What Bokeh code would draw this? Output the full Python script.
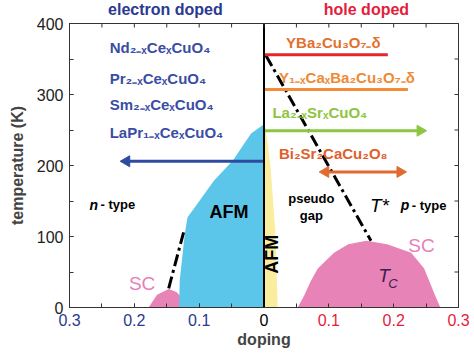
from bokeh.plotting import figure
from bokeh.models import FixedTicker, CustomJSTickFormatter, Span, Range1d, GridBox
from bokeh.core.properties import value
from bokeh.embed import file_html
from bokeh.resources import INLINE
import math

FONT = "Liberation Sans"

# ---- data (doping < 0 : electron doped, doping > 0 : hole doped) ----
afm_e_x = [0.0, 0.0, -0.02, -0.048, -0.077, -0.11, -0.118, -0.122, -0.125, -0.13, -0.131]
afm_e_t = [0, 258, 245, 207, 179, 137, 127, 105, 80, 38, 0]
afm_h_x = [0.0, 0.0, 0.003, 0.01, 0.018, 0.021]
afm_h_t = [0, 260, 250, 200, 100, 0]
sc_h_x = [0.052, 0.062, 0.072, 0.083, 0.108, 0.13, 0.158, 0.19, 0.227, 0.247, 0.255, 0.264, 0.272]
sc_h_t = [0, 17, 37, 55, 77, 89, 94, 89, 77, 55, 37, 17, 0]
sc_e_x = [-0.178, -0.165, -0.147, -0.135, -0.125, -0.118]
sc_e_t = [0, 18, 26, 22, 12, 0]
tstar_x = [0.003, 0.165]
tstar_t = [355, 94]
tce_x = [-0.147, -0.124]
tce_t = [27, 106]

e_names = ["Nd₂₋ₓCeₓCuO₄", "Pr₂₋ₓCeₓCuO₄", "Sm₂₋ₓCeₓCuO₄", "LaPr₁₋ₓCeₓCuO₄"]
e_name_x = [-0.238, -0.238, -0.238, -0.238]
e_name_t = [366, 323, 286, 246]
e_arrow_x0 = 0.0
e_arrow_x1 = -0.212
e_arrow_t = 206

h_names = ["YBa₂Cu₃O₇₋δ", "Y₁₋ₓCaₓBa₂Cu₃O₇₋δ", "La₂₋ₓSrₓCuO₄", "Bi₂Sr₂CaCu₂O₈"]
h_name_x = [0.034, 0.023, 0.013, 0.023]
h_name_t = [373, 324, 275, 217]
h_text_colors = ["#E2702E", "#EE8A35", "#8DC540", "#E0602C"]
h_line_x0 = [0.0, 0.0, 0.0, 0.095]
h_line_x1 = [0.191, 0.222, 0.241, 0.21]
h_line_t = [356, 307, 249, 191]
h_line_colors = ["#E3262B", "#F28C38", "#8DC540", "#E06A30"]

x_major_e = [-0.3, -0.2, -0.1]
x_major_0 = [0.0]
x_major_h = [0.1, 0.2, 0.3]
x_minor = [-0.3, -0.25, -0.2, -0.15, -0.1, -0.05, 0.0, 0.05, 0.1, 0.15, 0.2, 0.25, 0.3]
y_major = [0, 100, 200, 300, 400]
y_minor = [0, 50, 100, 150, 200, 250, 300, 350, 400]

header_text = ["electron doped", "hole doped"]
header_x = [-0.152, 0.158]

BLUE_T = "#2B3990"
RED_T = "#E31E3C"
FRAME = "#333333"
TICK = 4

W, H = 474, 354
BL, BR, BT, BB = 69, 16, 23, 47
X0, X1, Y0, Y1 = -0.3, 0.3, 0, 400

p = figure(width=W, height=H, x_range=(X0, X1), y_range=(Y0, Y1),
           output_backend="svg", toolbar_location=None,
           min_border_left=BL, min_border_right=BR, min_border_top=BT, min_border_bottom=BB)
p.grid.visible = False
p.outline_line_color = None
p.background_fill_color = "white"
p.border_fill_color = "white"

fmt = CustomJSTickFormatter(code="return tick == 0 ? '0' : Math.abs(tick).toFixed(1);")

def style_axis(ax):
    ax.major_tick_in = TICK
    ax.major_tick_out = 0
    ax.minor_tick_in = TICK
    ax.minor_tick_out = 0
    ax.axis_line_color = FRAME
    ax.major_tick_line_color = FRAME
    ax.minor_tick_line_color = FRAME
    ax.major_label_text_font = FONT
    ax.major_label_text_font_size = "16px"
    ax.major_label_standoff = 6

xa = p.xaxis[0]
xa.ticker = FixedTicker(ticks=x_major_e, minor_ticks=x_minor)
xa.formatter = fmt
style_axis(xa)
xa.major_label_text_color = BLUE_T
xa.axis_label = "doping"
xa.axis_label_text_font = FONT
xa.axis_label_text_font_style = "bold"
xa.axis_label_text_font_size = "16px"
xa.axis_label_standoff = 2

ya = p.yaxis[0]
ya.ticker = FixedTicker(ticks=y_major, minor_ticks=y_minor)
style_axis(ya)
ya.major_label_text_color = "#222222"
ya.axis_label = "temperature (K)"
ya.axis_label_text_font = FONT
ya.axis_label_text_font_style = "bold"
ya.axis_label_text_font_size = "16px"
ya.axis_label_standoff = 8

# ---- regions ----
p.patch(sc_e_x, sc_e_t, fill_color="#E883B7", line_color=None)
p.patch(afm_e_x, afm_e_t, fill_color="#5CC6EA", line_color=None)
p.patch(afm_h_x, afm_h_t, fill_color="#FAEE9E", line_color=None)
p.patch(sc_h_x, sc_h_t, fill_color="#E883B7", line_color=None)

p.add_layout(Span(location=0, dimension="height", line_color="black", line_width=2))

p.line(tstar_x, tstar_t, line_color="black", line_width=3, line_dash="12 4 3 4")
p.line(tce_x, tce_t, line_color="black", line_width=3, line_dash="12 4 3 4")

p.segment(x0=[e_arrow_x0], y0=[e_arrow_t], x1=[e_arrow_x1], y1=[e_arrow_t],
          line_color="#2E4B9E", line_width=3)
p.scatter(x=[e_arrow_x1], y=[e_arrow_t], marker="triangle", size=11, angle=math.pi / 2,
          fill_color="#2E4B9E", line_color="#2E4B9E")

p.segment(x0=h_line_x0, y0=h_line_t, x1=h_line_x1, y1=h_line_t,
          line_color=h_line_colors, line_width=3)
p.scatter(x=[h_line_x1[2], h_line_x1[3]], y=[h_line_t[2], h_line_t[3]], marker="triangle",
          size=11, angle=-math.pi / 2, fill_color=[h_line_colors[2], h_line_colors[3]],
          line_color=[h_line_colors[2], h_line_colors[3]])
p.scatter(x=[h_line_x0[3]], y=[h_line_t[3]], marker="triangle",
          size=11, angle=math.pi / 2, fill_color=h_line_colors[3], line_color=h_line_colors[3])

p.text(x=e_name_x, y=e_name_t, text=e_names, text_font=value(FONT), text_font_style="bold",
       text_font_size="15px", text_color="#3A4DA5", text_baseline="middle", text_align="left")
p.text(x=h_name_x, y=h_name_t, text=h_names, text_font=value(FONT), text_font_style="bold",
       text_font_size="15px", text_color=h_text_colors, text_baseline="middle", text_align="left")

p.text(x=[-0.054], y=[135], text=["AFM"], text_font=value(FONT), text_font_style="bold",
       text_font_size="18px", text_color="black", text_baseline="middle", text_align="center")
p.text(x=[0.012], y=[75], text=["AFM"], text_font=value(FONT), text_font_style="bold",
       text_font_size="18px", text_color="black", text_baseline="middle", text_align="center",
       angle=math.pi / 2)
p.text(x=[0.073, 0.073], y=[153, 130], text=["pseudo", "gap"], text_font=value(FONT),
       text_font_style="bold", text_font_size="13px", text_color="black",
       text_baseline="middle", text_align="center")
p.text(x=[-0.269], y=[145], text=["n"], text_font=value(FONT), text_font_style="bold italic",
       text_font_size="14px", text_color="black", text_baseline="middle", text_align="left")
p.text(x=[-0.269], y=[145], text=["- type"], x_offset=11, text_font=value(FONT), text_font_style="bold",
       text_font_size="13px", text_color="black", text_baseline="middle", text_align="left")
p.text(x=[0.211], y=[144], text=["p"], text_font=value(FONT), text_font_style="bold italic",
       text_font_size="14px", text_color="black", text_baseline="middle", text_align="left")
p.text(x=[0.211], y=[144], text=["- type"], x_offset=11, text_font=value(FONT), text_font_style="bold",
       text_font_size="13px", text_color="black", text_baseline="middle", text_align="left")
p.text(x=[0.178], y=[144], text=["T*"], text_font=value(FONT), text_font_style="italic",
       text_font_size="19px", text_color="black", text_baseline="middle", text_align="center")
p.text(x=[0.243, -0.188], y=[87, 34], text=["SC", "SC"], text_font=value(FONT),
       text_font_size="19px", text_color="#E77FB8", text_baseline="middle", text_align="center")
p.text(x=[0.185], y=[45], text=["T"], text_font=value(FONT), text_font_style="italic",
       text_font_size="19px", text_color="#3B1F4E", text_baseline="middle", text_align="center")
p.text(x=[0.185], y=[45], text=["C"], x_offset=9, y_offset=8, text_font=value(FONT),
       text_font_style="italic", text_font_size="13px", text_color="#3B1F4E",
       text_baseline="middle", text_align="center")

# ---- transparent overlay, same data mapping, frame = whole canvas (no axes) ----
ppx = (W - BL - BR) / (X1 - X0)
ppy = (H - BT - BB) / (Y1 - Y0)
ov = figure(width=W, height=H, output_backend="svg", toolbar_location=None,
            x_range=Range1d(X0 - BL / ppx, X1 + BR / ppx),
            y_range=Range1d(Y0 - BB / ppy, Y1 + BT / ppy),
            x_axis_location=None, y_axis_location=None,
            min_border=0, min_border_left=0, min_border_right=0,
            min_border_top=0, min_border_bottom=0)
ov.grid.visible = False
ov.outline_line_color = None
ov.background_fill_alpha = 0
ov.border_fill_alpha = 0

# keep each plot's frame where its own borders put it (no cross-plot alignment)
for fig in (p, ov):
    try:
        fig.frame_align = False
    except AttributeError:
        pass

# frame box and inward ticks on top / right
ov.quad(left=[X0], right=[X1], bottom=[Y0], top=[Y1], fill_alpha=0,
        line_color=FRAME, line_width=1)
ov.segment(x0=x_minor, x1=x_minor, y0=[Y1] * len(x_minor), y1=[Y1 - TICK / ppy] * len(x_minor),
           line_color=FRAME, line_width=1)
ov.segment(x0=[X1] * len(y_minor), x1=[X1 - TICK / ppx] * len(y_minor), y0=y_minor, y1=y_minor,
           line_color=FRAME, line_width=1)

tick_vals = x_major_0 + x_major_h
ov.text(x=tick_vals, y=[Y0] * len(tick_vals), text=["%g" % abs(v) for v in tick_vals],
        y_offset=6, text_color=["black"] + [RED_T] * len(x_major_h),
        text_font=value(FONT), text_font_size="16px", text_align="center", text_baseline="top")
ov.text(x=header_x, y=[Y1, Y1], text=header_text, y_offset=-6,
        text_color=[BLUE_T, RED_T], text_font=value(FONT), text_font_style="bold",
        text_font_size="16px", text_align="center", text_baseline="bottom")

grid = GridBox(children=[(p, 0, 0), (ov, 0, 0)])
open("out.html", "w").write(file_html(grid, INLINE))
